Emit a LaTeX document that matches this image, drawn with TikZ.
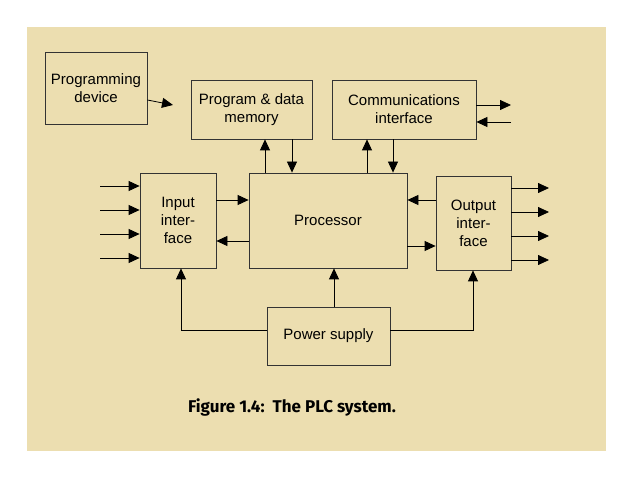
\documentclass[tikz,border=0pt]{standalone}
\usepackage{fontspec}
\setmainfont{Liberation Sans}
\newfontfamily\capfont{Fira Sans}
\usetikzlibrary{arrows.meta}
\definecolor{bg}{RGB}{236,222,176}
\begin{document}
\begin{tikzpicture}[x=1pt,y=-1pt,
  blk/.style={draw=black!80,line width=0.8pt,inner sep=0pt,align=center,font=\fontsize{15}{18}\selectfont},
  ar/.style={line width=0.8pt,-{Triangle[length=11pt,width=10pt]}}]
\useasboundingbox (0,0) rectangle (638,478);
\fill[bg] (27,27) rectangle (606,451);
% blocks
\node[blk,minimum width=102,minimum height=72] (pd) at (96,88) {Programming\\device};
\node[blk,minimum width=121,minimum height=59] (mem) at (251.5,109.5) {Program \& data\\memory};
\node[blk,minimum width=144,minimum height=59] (com) at (404,109.5) {Communications\\interface};
\node[blk,minimum width=76,minimum height=95] (in) at (178,220.5) {Input\\inter-\\face};
\node[blk,minimum width=158,minimum height=95] (proc) at (328,220.5) {Processor};
\node[blk,minimum width=75,minimum height=94] (out) at (473.5,223) {Output\\inter-\\face};
\node[blk,minimum width=123,minimum height=58] (ps) at (328.5,336) {Power supply};
\node[font=\capfont\bfseries\fontsize{17}{20}\selectfont] (cap) at (292,407) {Figure 1.4:\ \ The PLC system.};
% programming device link
\coordinate (pt) at (173,105);
\draw[ar] (pd.east |- 0,100) -- (pt);
% memory and communications
\draw[ar] (proc.north -| 265,0) -- (mem.south -| 265,0);
\draw[ar] (mem.south -| 292,0) -- (proc.north -| 292,0);
\draw[ar] (proc.north -| 367,0) -- (com.south -| 367,0);
\draw[ar] (com.south -| 393,0) -- (proc.north -| 393,0);
\coordinate (co1) at (511,105);
\coordinate (co2) at (511,122);
\draw[ar] (com.east |- co1) -- (co1);
\draw[ar] (co2) -- (com.east |- co2);
% inputs
\foreach \y in {186,210,234,258}{
  \coordinate (i\y) at (100,\y);
  \draw[ar] (i\y) -- (in.west |- i\y);
}
\draw[ar] (in.east |- 0,200) -- (proc.west |- 0,200);
\draw[ar] (proc.west |- 0,241) -- (in.east |- 0,241);
\draw[ar] (out.west |- 0,200) -- (proc.east |- 0,200);
\draw[ar] (proc.east |- 0,246) -- (out.west |- 0,246);
% outputs
\foreach \y in {188,212,236,260}{
  \coordinate (o\y) at (549,\y);
  \draw[ar] (out.east |- o\y) -- (o\y);
}
% power
\draw[ar] (ps.north -| 334,0) -- (proc.south -| 334,0);
\draw[ar] (ps.west |- 0,330) -| (in.south -| 181,0);
\draw[ar] (ps.east |- 0,330) -| (out.south -| 473,0);
\end{tikzpicture}
\end{document}
